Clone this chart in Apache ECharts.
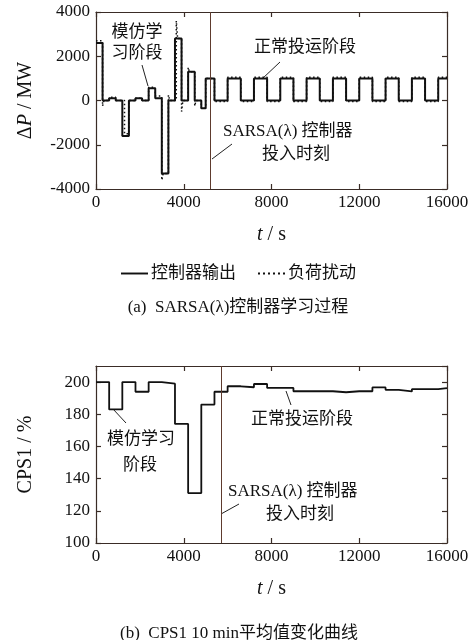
<!DOCTYPE html>
<html>
<head>
<meta charset="utf-8">
<title>SARSA(λ) 控制器学习过程</title>
<script src="https://cdn.jsdelivr.net/npm/echarts@6.0.0/dist/echarts.min.js"></script>
<style>
  html, body { margin: 0; padding: 0; background: #fff; }
  #chart { width: 474px; height: 640px; }
</style>
</head>
<body>
<div id="chart"></div>
<script>
// (a) 控制器输出 / 负荷扰动 (ΔP, MW) — each value holds from its time until the next one
const ctrlTimes = [0, 300, 600, 900, 1200, 1500, 1800, 2100, 2400, 2700,
  3000, 3300, 3600, 3900, 4200, 4500, 4800, 5000, 5400, 6000,
  6600, 7200, 7800, 8400, 9000, 9600, 10200, 10800, 11400, 12000,
  12600, 13200, 13800, 14400, 15000, 15600, 16000]
const ctrlOutput = [2600, 0, 100, 0, -1600, 0, 100, 0, 550, 100,
  -3300, 0, 2800, 0, 1300, 0, -350, 1000, 0, 1000,
  0, 1000, 0, 1000, 0, 1000, 0, 1000, 0, 1000,
  0, 1000, 0, 1000, 0, 1000, 1000]

const loadTimes = [0, 300, 360, 600, 900, 1300, 1500, 1800, 2100, 2400,
  2700, 3000, 3060, 3300, 3360, 3660, 3720, 3900, 3960, 4200,
  4260, 4500, 4560, 4800, 5000, 5400, 6000, 6600, 7200, 7800,
  8400, 9000, 9600, 10200, 10800, 11400, 12000, 12600, 13200, 13800,
  14400, 15000, 15600, 16000]
const loadDisturb = [2700, -250, 0, 150, 0, -1500, 0, 100, 0, 600,
  200, -3600, -3300, 250, 0, 3600, 2800, -500, 0, 1500,
  1300, -250, 0, -350, 1000, -50, 1050, -50, 1050, -50,
  1050, -50, 1050, -50, 1050, -50, 1050, -50, 1050, -50,
  1050, -50, 1050, 1050]

// (b) CPS1 10 min 平均值 (%)
const cpsTimes = [0, 600, 1200, 1800, 2400, 3000, 3600, 4200, 4800, 5400,
  6000, 6600, 7200, 7800, 8400, 9000, 9600, 10200, 10800, 11400,
  12000, 12600, 13200, 13800, 14400, 15000, 15600, 16000]
const cpsValues = [200, 183, 200, 194, 200, 199, 174, 131, 186, 194,
  197.4, 196.8, 198.8, 196.4, 196.4, 194.3, 194.3, 194.3, 193.7, 194.3,
  194.3, 196.7, 195.2, 194.2, 195.6, 195.6, 196.2, 196.2]

// SARSA(λ) 控制器投入时刻
const switchTimeA = 5200
const switchTimeB = 5700

const serif = "'Liberation Serif', 'Times New Roman', 'Noto Sans CJK SC', serif"
const frameColor = '#3a2c26'
const markColor = '#5e3b2e'

// legend icons: a solid bar and a row of dots
const solidIcon = 'path://M0,0H28V2H0Z'
const dottedIcon = 'path://M0,0h2v2h-2z M5,0h2v2h-2z M10,0h2v2h-2z M15,0h2v2h-2z M20,0h2v2h-2z M25,0h2v2h-2z'

function pairs(xs, ys) {
  return xs.map((x, i) => [x, ys[i]])
}

function plain(v) {
  return String(v)
}

function xAxisFor(gridIndex, position) {
  const bottom = position === 'bottom'
  return {
    type: 'value', gridIndex, position,
    min: 0, max: 16000, interval: 4000,
    axisLine: { show: true, onZero: false, lineStyle: { color: frameColor, width: 1.2 } },
    axisTick: { show: true, inside: true, length: 5, lineStyle: { color: frameColor, width: 1.2 } },
    axisLabel: { show: bottom, margin: 5, fontSize: 17, color: '#111', fontFamily: serif, formatter: plain },
    splitLine: { show: false },
    name: bottom ? '{i|t}{n| / s}' : '',
    nameLocation: 'middle',
    nameGap: 36,
    nameTextStyle: {
      rich: {
        i: { fontSize: 20, fontStyle: 'italic', fontFamily: serif, color: '#111' },
        n: { fontSize: 20, fontFamily: serif, color: '#111' }
      }
    }
  }
}

function yAxisFor(gridIndex, position, range, name) {
  const left = position === 'left'
  return {
    type: 'value', gridIndex, position,
    min: range[0], max: range[1], interval: range[2],
    axisLine: { show: true, onZero: false, lineStyle: { color: frameColor, width: 1.2 } },
    axisTick: { show: true, inside: true, length: 5, lineStyle: { color: frameColor, width: 1.2 } },
    axisLabel: {
      show: left, margin: 6, fontSize: 17, color: '#111', fontFamily: serif,
      showMaxLabel: range[3], formatter: plain
    },
    splitLine: { show: false },
    name: left ? name : '',
    nameLocation: 'middle',
    nameGap: 60,
    nameRotate: 90,
    nameTextStyle: {
      fontSize: 20, fontFamily: serif, color: '#111',
      rich: {
        i: { fontSize: 20, fontStyle: 'italic', fontFamily: serif, color: '#111' },
        n: { fontSize: 20, fontFamily: serif, color: '#111' }
      }
    }
  }
}

function switchLine(t) {
  return {
    silent: true,
    symbol: ['none', 'none'],
    label: { show: false },
    lineStyle: { color: markColor, width: 1, type: 'solid' },
    data: [{ xAxis: t }]
  }
}

function label(text, x, y, size, align) {
  return {
    type: 'text', x, y,
    style: {
      text, fill: '#111', align: align || 'center', verticalAlign: 'middle',
      font: (size || 17) + 'px ' + serif
    }
  }
}

function leader(x1, y1, x2, y2) {
  return {
    type: 'line',
    shape: { x1, y1, x2, y2 },
    style: { stroke: '#222', lineWidth: 1 }
  }
}

const chart = echarts.init(document.getElementById('chart'))

const option = {
  backgroundColor: '#fff',
  animation: false,
  textStyle: { fontFamily: serif },
  grid: [
    { left: 96, top: 12, width: 351, height: 177, outerBoundsMode: 'none' },
    { left: 96, top: 366, width: 351, height: 177, outerBoundsMode: 'none' }
  ],
  xAxis: [
    xAxisFor(0, 'bottom'), xAxisFor(0, 'top'),
    xAxisFor(1, 'bottom'), xAxisFor(1, 'top')
  ],
  yAxis: [
    yAxisFor(0, 'left', [-4000, 4000, 2000, true], '{n|Δ}{i|P}{n| / MW}'),
    yAxisFor(0, 'right', [-4000, 4000, 2000, true], ''),
    yAxisFor(1, 'left', [100, 210, 20, false], 'CPS1 / %'),
    yAxisFor(1, 'right', [100, 210, 20, false], '')
  ],
  legend: {
    left: 116, top: 260,
    itemWidth: 27, itemHeight: 2, itemGap: 22,
    textStyle: { fontSize: 17, color: '#111', fontFamily: serif, padding: [0, 0, 0, -2] },
    data: [
      { name: '控制器输出', icon: solidIcon },
      { name: '负荷扰动', icon: dottedIcon }
    ]
  },
  series: [
    {
      name: '控制器输出',
      type: 'line', step: 'end',
      xAxisIndex: 0, yAxisIndex: 0,
      showSymbol: false, symbol: 'none',
      lineStyle: { color: '#111', width: 2 },
      itemStyle: { color: '#111' },
      data: pairs(ctrlTimes, ctrlOutput),
      markLine: switchLine(switchTimeA),
      z: 3
    },
    {
      name: '负荷扰动',
      type: 'line', step: 'end',
      xAxisIndex: 0, yAxisIndex: 0,
      showSymbol: false, symbol: 'none',
      lineStyle: { color: '#111', width: 1.5, type: [1.5, 2.5] },
      itemStyle: { color: '#111' },
      data: pairs(loadTimes, loadDisturb),
      z: 4
    },
    {
      name: 'CPS1',
      type: 'line', step: 'end',
      xAxisIndex: 2, yAxisIndex: 2,
      showSymbol: false, symbol: 'none',
      lineStyle: { color: '#111', width: 1.8 },
      data: pairs(cpsTimes, cpsValues),
      markLine: switchLine(switchTimeB),
      z: 3
    }
  ],
  graphic: [
    // (a)
    label('模仿学', 137, 33),
    label('习阶段', 137, 54),
    leader(142, 65, 148, 86),
    label('正常投运阶段', 305, 48),
    leader(280, 62, 262, 79),
    label('SARSA(λ) 控制器', 223, 132, 17, 'left'),
    label('投入时刻', 296, 155),
    leader(232, 144, 212, 159),
    label('(a)  SARSA(λ)控制器学习过程', 238, 308),
    // (b)
    label('模仿学习', 141, 440),
    label('阶段', 140, 466),
    leader(113, 409, 126, 423),
    label('正常投运阶段', 302, 420),
    leader(286, 391, 291, 405),
    label('SARSA(λ) 控制器', 228, 492, 17, 'left'),
    label('投入时刻', 300, 515),
    leader(239, 504, 221, 514),
    label('(b)  CPS1 10 min平均值变化曲线', 239, 634)
  ]
}

chart.setOption(option)
</script>
</body>
</html>
